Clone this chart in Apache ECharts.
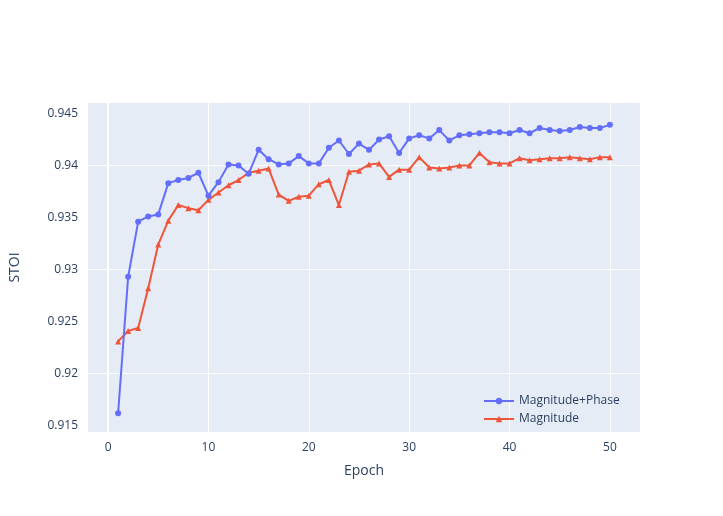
<!DOCTYPE html>
<html>
<head>
<meta charset="utf-8">
<script src="https://cdn.jsdelivr.net/npm/echarts@6/dist/echarts.min.js"></script>
</head>
<body style="margin:0">
<div id="main" style="width:723px;height:516px"></div>
<script>
var epochs = [];
for (var i = 1; i <= 50; i++) epochs.push(i);
var magPhase = [0.9162,0.9293,0.9346,0.9351,0.9353,0.9383,0.9386,0.9388,0.9393,0.9371,
  0.9384,0.9401,0.9400,0.9392,0.9415,0.9406,0.9401,0.9402,0.9409,0.9402,
  0.9402,0.9417,0.9424,0.9411,0.9421,0.9415,0.9425,0.9428,0.9412,0.9426,
  0.9429,0.9426,0.9434,0.9424,0.9429,0.9430,0.9431,0.9432,0.9432,0.9431,
  0.9434,0.9431,0.9436,0.9434,0.9433,0.9434,0.9437,0.9436,0.9436,0.9439];
var magOnly = [0.9231,0.9241,0.9244,0.9282,0.9324,0.9347,0.9362,0.9359,0.9357,0.9367,
  0.9374,0.9381,0.9386,0.9393,0.9395,0.9397,0.9372,0.9366,0.9370,0.9371,
  0.9382,0.9386,0.9362,0.9394,0.9395,0.9401,0.9402,0.9389,0.9396,0.9396,
  0.9408,0.9398,0.9397,0.9398,0.9400,0.9400,0.9412,0.9403,0.9402,0.9402,
  0.9407,0.9405,0.9406,0.9407,0.9407,0.9408,0.9407,0.9406,0.9408,0.9408];
var xTicks = [0, 10, 20, 30, 40, 50];
var yTicks = [0.915, 0.92, 0.925, 0.93, 0.935, 0.94, 0.945];

var txt = '#2a3f5f';
var chart = echarts.init(document.getElementById('main'));
var gridLines = xTicks.map(function (v) { return { xAxis: v, lineStyle: { width: v === 0 ? 2 : 1 } }; })
  .concat(yTicks.map(function (v) { return { yAxis: v }; }));
chart.setOption({
  animation: false,
  textStyle: { fontFamily: 'Open Sans, Noto Sans, sans-serif' },
  grid: { left: 83, right: 83, top: 103, bottom: 84, show: true, backgroundColor: '#E5ECF6', borderWidth: 0 },
  xAxis: {
    type: 'value', min: -2, max: 53, interval: 1,
    name: 'Epoch', nameLocation: 'middle', nameGap: 32,
    nameTextStyle: { color: txt, fontSize: 14 },
    axisLine: { show: false }, axisTick: { show: false }, splitLine: { show: false },
    axisLabel: { color: txt, fontSize: 12, margin: 10,
      formatter: function (v) { return xTicks.indexOf(v) >= 0 ? String(v) : ''; } }
  },
  yAxis: {
    type: 'value', min: 0.9144, max: 0.9460, interval: 0.0002,
    name: 'STOI', nameLocation: 'middle', nameGap: 66,
    nameTextStyle: { color: txt, fontSize: 14 },
    axisLine: { show: false }, axisTick: { show: false }, splitLine: { show: false },
    axisLabel: { color: txt, fontSize: 12, margin: 10,
      formatter: function (v) {
        for (var k = 0; k < yTicks.length; k++) if (Math.abs(v - yTicks[k]) < 1e-7) return String(yTicks[k]);
        return '';
      } }
  },
  legend: {
    orient: 'vertical', left: 478, top: 390, itemGap: 6, itemWidth: 30, itemHeight: 8,
    textStyle: { color: txt, fontSize: 12 },
    data: ['Magnitude+Phase', 'Magnitude']
  },
  series: [
    {
      name: 'Magnitude+Phase', type: 'line', data: epochs.map(function (e, i) { return [e, magPhase[i]]; }),
      color: '#636EFA', symbol: 'circle', symbolSize: 6, lineStyle: { width: 2 }, z: 3,
      markLine: { silent: true, symbol: 'none', label: { show: false },
        lineStyle: { color: '#ffffff', type: 'solid', width: 1 }, data: gridLines, z: 1 }
    },
    {
      name: 'Magnitude', type: 'line', data: epochs.map(function (e, i) { return [e, magOnly[i]]; }),
      color: '#EF553B', symbol: 'triangle', symbolSize: 6, lineStyle: { width: 2 }, z: 2
    }
  ]
});
</script>
</body>
</html>
